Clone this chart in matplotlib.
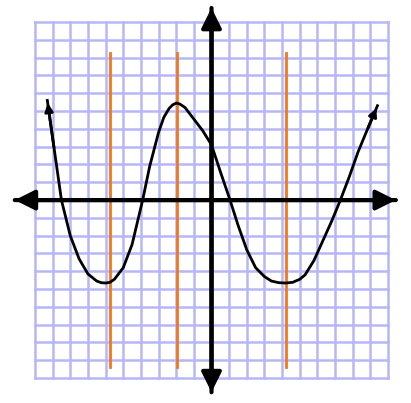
import numpy as np
import matplotlib.pyplot as plt
from matplotlib.patches import FancyArrowPatch

# curve points (grid units)
curve_x = [-9.3, -8.9, -8.5, -8.0, -7.5, -7.0, -6.5, -6.25, -6.0, -5.75, -5.5, -5.0, -4.5, -3.9, -3.5, -3.0,
           -2.7, -2.4, -2.2, -2.0, -1.8, -1.5, -1.0, -0.5, 0.0, 0.5, 1.05, 1.5, 2.0, 2.5, 3.0, 3.4,
           3.8, 4.2, 4.6, 5.0, 5.3, 5.8, 6.3, 6.8, 7.3, 7.8, 8.3, 8.8, 9.4]
curve_y = [5.6, 2.8, 0.0, -2.0, -3.3, -4.15, -4.55, -4.64, -4.66, -4.62, -4.45, -3.8, -2.5, 0.0, 1.9, 3.8,
           4.65, 5.15, 5.35, 5.45, 5.4, 5.2, 4.55, 3.9, 3.1, 1.6, 0.0, -1.4, -2.8, -3.8, -4.3, -4.55,
           -4.64, -4.66, -4.62, -4.45, -4.2, -3.4, -2.3, -1.2, 0.0, 1.3, 2.7, 3.9, 5.3]
orange_x = [-5.75, -1.95, 4.2]

fig = plt.figure(figsize=(4.11, 4.03), dpi=100)
ax = fig.add_axes([0, 0, 1, 1])
ax.set_xlim(-11.98, 11.3)
ax.set_ylim(-11.4, 11.24)
ax.axis('off')

for g in range(-10, 11):
    ax.plot([g, g], [-10, 10], color='#b6b6f8', lw=1.8, zorder=1)
    ax.plot([-10, 10], [g, g], color='#b6b6f8', lw=1.8, zorder=1)

for ox in orange_x:
    ax.plot([ox, ox], [-9.4, 8.25], color='#f07820', lw=2, zorder=2)

for start, end in [((-11.3, 0), (10.6, 0)), ((10.6, 0), (-11.3, 0)),
                   ((0, -10.95), (0, 10.95)), ((0, 10.95), (0, -10.95))]:
    ax.add_patch(FancyArrowPatch(start, end, arrowstyle='-|>,head_length=0.8,head_width=0.4',
                                 color='black', lw=3, mutation_scale=15, zorder=3))

ax.plot(curve_x, curve_y, color='black', lw=2, zorder=4, solid_joinstyle='round')
ax.annotate('', xy=(curve_x[0], curve_y[0]), xytext=(curve_x[1], curve_y[1]),
            arrowprops=dict(arrowstyle='-|>', color='black', lw=2, mutation_scale=12), zorder=4)
ax.annotate('', xy=(curve_x[-1], curve_y[-1]), xytext=(curve_x[-2], curve_y[-2]),
            arrowprops=dict(arrowstyle='-|>', color='black', lw=2, mutation_scale=12), zorder=4)

fig.savefig('out.png', dpi=100)
